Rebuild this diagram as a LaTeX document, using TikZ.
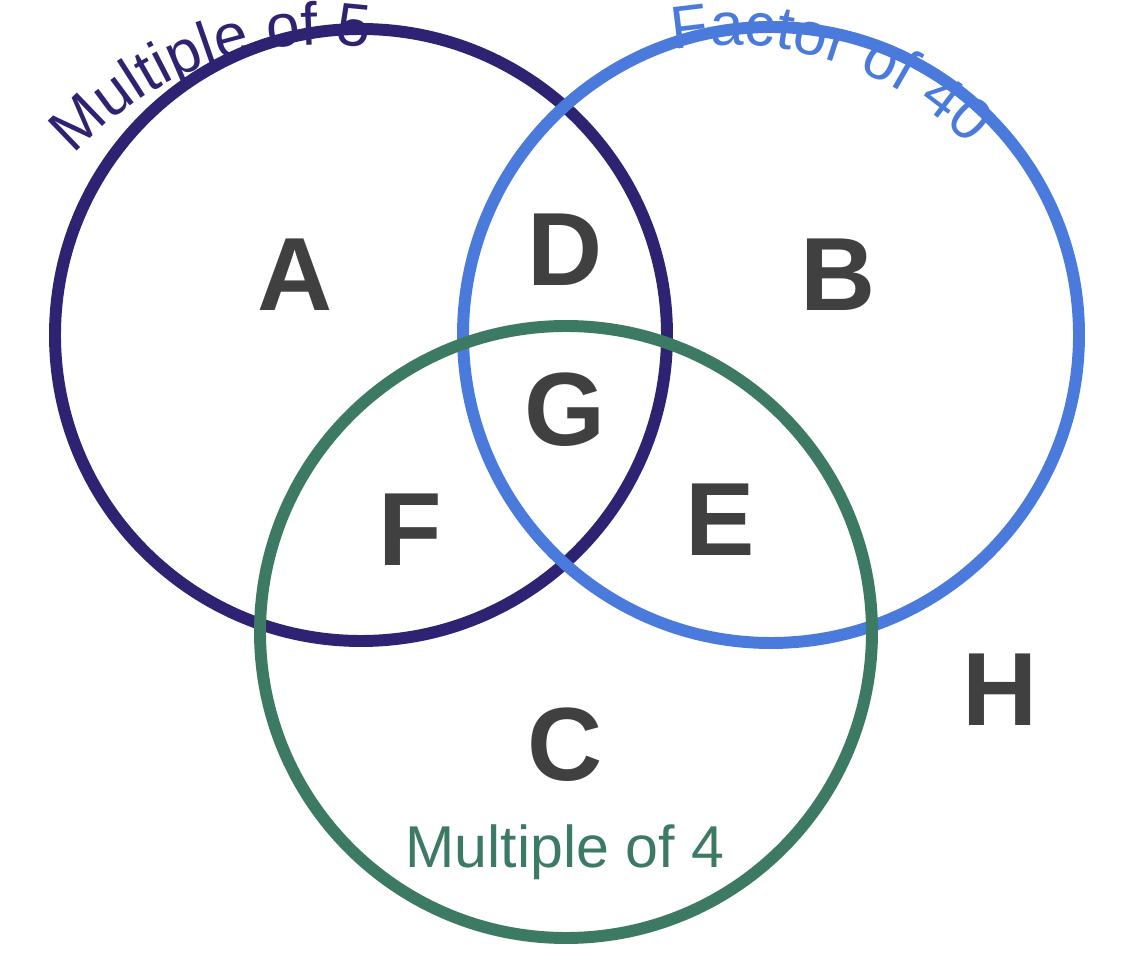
\documentclass[tikz,border=0pt]{standalone}
\usepackage{fontspec}
\setmainfont{Liberation Sans}
\usetikzlibrary{decorations.text,calc}
\definecolor{navy}{HTML}{2E2272}
\definecolor{sky}{HTML}{4A7BDC}
\definecolor{teal}{HTML}{3D7A63}
\definecolor{lab}{HTML}{404040}
\begin{document}
\begin{tikzpicture}[x=0.025cm,y=0.025cm,
  ring/.style={line width=8.5pt},
  big/.style={text=lab,font=\fontsize{74}{80}\selectfont\bfseries},
  set/.style={font=\fontsize{42}{48}\selectfont}]
\useasboundingbox (0,0) rectangle (1140,969);
\coordinate (c1) at (361,634);
\coordinate (c2) at (771,634);
\coordinate (c3) at (566,337);
\draw[ring,navy] (c1) circle (306);
\draw[ring,sky] (c2) circle (308);
\draw[ring,teal] (c3) circle (306);
\path[decorate,decoration={text along path,text align=center,text color=navy,
  text={|\fontsize{43}{48}\selectfont|Multiple of 5}}]
  ($(c1)+(-40,-40)+(140:330)$) arc (140:80:330);
\path[decorate,decoration={text along path,text align=center,text color=sky,
  text={|\fontsize{43}{48}\selectfont|Factor of 40}}]
  ($(c2)+(-40,-40)+(102:330)$) arc (102:42:330);
\node[set,text=teal] (m4) at (565,117) {Multiple of 4};
\node[big] (A) at (295,694) {A};
\node[big] (D) at (565,719) {D};
\node[big] (B) at (838,694) {B};
\node[big] (G) at (565,559) {G};
\node[big] (F) at (410,439) {F};
\node[big] (E) at (720,449) {E};
\node[big] (C) at (565,224) {C};
\node[big] (H) at (1000,279) {H};
\end{tikzpicture}
\end{document}
